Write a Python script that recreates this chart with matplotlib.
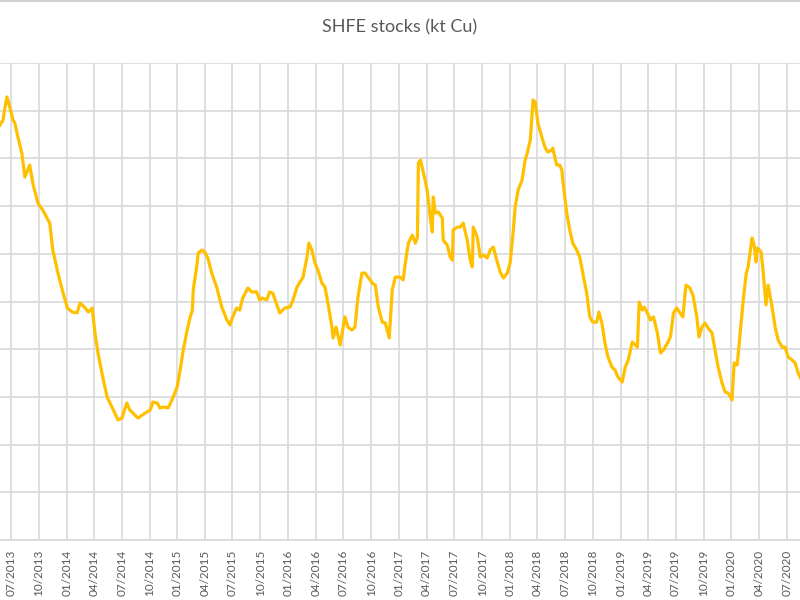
import matplotlib
matplotlib.use("Agg")
import matplotlib.pyplot as plt
import matplotlib.dates as mdates
import pandas as pd
from matplotlib.lines import Line2D

title = "SHFE stocks (kt Cu)"

dates = [
    "2013-05-26", "2013-06-05", "2013-06-11", "2013-06-18", "2013-06-28", "2013-07-08", "2013-07-14",
    "2013-07-24", "2013-08-06", "2013-08-16", "2013-09-01", "2013-09-11", "2013-09-28", "2013-10-14",
    "2013-10-28", "2013-11-06", "2013-11-16", "2013-12-03", "2013-12-20", "2014-01-03", "2014-01-19",
    "2014-02-04", "2014-02-14", "2014-03-03", "2014-03-13", "2014-03-26", "2014-04-04", "2014-04-14",
    "2014-04-27", "2014-05-14", "2014-05-30", "2014-06-19", "2014-07-02", "2014-07-18", "2014-07-28",
    "2014-08-14", "2014-08-24", "2014-09-16", "2014-10-03", "2014-10-12", "2014-10-26", "2014-11-04",
    "2014-11-14", "2014-12-01", "2014-12-14", "2014-12-31", "2015-01-10", "2015-01-20", "2015-02-02",
    "2015-02-12", "2015-02-19", "2015-02-22", "2015-03-07", "2015-03-10", "2015-03-23", "2015-04-01",
    "2015-04-11", "2015-04-24", "2015-05-11", "2015-05-27", "2015-06-13", "2015-06-23", "2015-07-02",
    "2015-07-15", "2015-07-25", "2015-08-04", "2015-08-21", "2015-09-03", "2015-09-19", "2015-09-29",
    "2015-10-09", "2015-10-22", "2015-11-01", "2015-11-11", "2015-12-04", "2015-12-21", "2016-01-07",
    "2016-01-17", "2016-01-30", "2016-02-09", "2016-02-19", "2016-03-03", "2016-03-09", "2016-03-19",
    "2016-03-29", "2016-04-08", "2016-04-21", "2016-05-01", "2016-05-11", "2016-05-24", "2016-05-28",
    "2016-06-07", "2016-06-20", "2016-06-30", "2016-07-06", "2016-07-16", "2016-07-29", "2016-08-08",
    "2016-08-18", "2016-08-31", "2016-09-10", "2016-09-20", "2016-10-04", "2016-10-14", "2016-10-24",
    "2016-11-06", "2016-11-16", "2016-11-29", "2016-12-09", "2016-12-19", "2017-01-04", "2017-01-14",
    "2017-01-21", "2017-01-31", "2017-02-13", "2017-02-23", "2017-03-02", "2017-03-05", "2017-03-12",
    "2017-03-22", "2017-04-03", "2017-04-13", "2017-04-20", "2017-04-23", "2017-04-30", "2017-05-10",
    "2017-05-23", "2017-05-26", "2017-06-08", "2017-06-18", "2017-06-25", "2017-06-28", "2017-07-11",
    "2017-07-21", "2017-07-31", "2017-08-13", "2017-08-23", "2017-08-30", "2017-09-02", "2017-09-15",
    "2017-09-25", "2017-10-05", "2017-10-18", "2017-10-28", "2017-11-07", "2017-11-20", "2017-11-30",
    "2017-12-10", "2017-12-23", "2018-01-02", "2018-01-12", "2018-01-18", "2018-01-28", "2018-02-10",
    "2018-02-20", "2018-02-27", "2018-03-09", "2018-03-18", "2018-03-25", "2018-04-03", "2018-04-16",
    "2018-04-26", "2018-05-06", "2018-05-19", "2018-05-22", "2018-06-04", "2018-06-14", "2018-06-21",
    "2018-06-24", "2018-07-07", "2018-07-17", "2018-07-27", "2018-08-09", "2018-08-19", "2018-08-29",
    "2018-09-11", "2018-09-21", "2018-10-01", "2018-10-14", "2018-10-21", "2018-10-31", "2018-11-10",
    "2018-11-20", "2018-12-03", "2018-12-13", "2018-12-23", "2019-01-06", "2019-01-16", "2019-01-26",
    "2019-02-08", "2019-02-18", "2019-02-25", "2019-03-03", "2019-03-13", "2019-03-20", "2019-03-30",
    "2019-04-09", "2019-04-19", "2019-05-02", "2019-05-12", "2019-05-22", "2019-06-04", "2019-06-14",
    "2019-06-24", "2019-07-05", "2019-07-15", "2019-07-25", "2019-08-04", "2019-08-17", "2019-08-27",
    "2019-09-09", "2019-09-16", "2019-09-26", "2019-10-06", "2019-10-16", "2019-10-29", "2019-11-08",
    "2019-11-18", "2019-12-01", "2019-12-11", "2019-12-21", "2020-01-03", "2020-01-10", "2020-01-20",
    "2020-01-30", "2020-02-09", "2020-02-19", "2020-02-25", "2020-03-09", "2020-03-16", "2020-03-22",
    "2020-03-26", "2020-04-08", "2020-04-14", "2020-04-24", "2020-05-01", "2020-05-14", "2020-05-24",
    "2020-06-03", "2020-06-16", "2020-06-26", "2020-07-06", "2020-07-19", "2020-07-29", "2020-08-08",
    "2020-08-21",
]

stocks = [
    217.5, 220.1, 226.4, 232.2, 226.4, 220.1, 218.5,
    211.2, 202.8, 190.2, 196.5, 187.1, 176.6, 172.9,
    168.7, 166.1, 152.0, 139.9, 129.4, 121.6, 119.5,
    119.0, 124.2, 121.6, 119.5, 121.6, 108.5, 98.0,
    87.5, 74.9, 69.7, 62.9, 63.9, 71.8, 68.1,
    65.5, 63.9, 66.5, 68.1, 72.3, 71.8, 69.2,
    69.7, 69.2, 73.4, 80.2, 89.1, 99.6, 110.0,
    116.9, 120.5, 131.0, 145.2, 150.4, 152.0, 150.9,
    147.8, 139.9, 132.1, 122.1, 115.3, 112.7, 116.9,
    121.6, 120.5, 126.8, 132.1, 130.0, 130.0, 125.8,
    126.8, 125.8, 130.0, 129.4, 119.0, 121.6, 122.1,
    125.8, 132.6, 135.2, 137.8, 148.3, 155.6, 152.0,
    145.2, 141.5, 134.7, 132.6, 124.2, 111.6, 105.9,
    111.6, 102.2, 111.6, 116.9, 111.6, 110.0, 111.6,
    127.3, 139.9, 139.9, 137.8, 134.7, 133.6, 122.1,
    114.2, 113.7, 105.9, 131.0, 137.8, 137.8, 136.3,
    145.2, 155.6, 159.8, 155.6, 158.8, 197.6, 199.1,
    192.3, 183.4, 169.3, 161.4, 179.8, 171.4, 171.9,
    168.7, 157.2, 154.6, 148.3, 146.7, 162.5, 164.0,
    164.0, 166.1, 157.2, 146.7, 143.1, 164.0, 158.8,
    148.3, 149.4, 147.8, 152.0, 153.5, 145.7, 140.4,
    137.3, 139.9, 145.7, 162.5, 174.5, 183.4, 188.7,
    199.1, 202.8, 209.6, 230.6, 229.5, 218.5, 211.2,
    206.0, 203.3, 204.4, 205.4, 196.5, 196.5, 193.9,
    188.7, 171.4, 162.5, 155.6, 152.0, 148.3, 139.9,
    129.4, 116.9, 114.2, 114.2, 119.5, 113.7, 103.2,
    95.9, 90.7, 89.1, 85.4, 82.8, 90.7, 94.3,
    103.8, 102.2, 101.1, 124.7, 120.5, 122.1, 119.0,
    115.3, 116.9, 108.5, 98.0, 99.6, 103.2, 106.4,
    119.0, 121.6, 119.0, 116.9, 133.6, 132.1, 128.4,
    116.9, 106.4, 111.6, 113.7, 111.1, 108.5, 99.6,
    90.7, 82.3, 77.6, 77.0, 73.4, 92.8, 91.7,
    108.5, 125.8, 139.9, 143.1, 158.3, 154.6, 145.7,
    153.0, 150.9, 141.5, 123.2, 133.6, 122.1, 111.6,
    104.8, 101.1, 101.1, 95.9, 94.3, 92.8, 87.5,
    83.1,
]

x_start = "2013-05-26"
x_end = "2020-08-14"
tick_dates = pd.date_range("2013-07-01", "2020-07-01", freq="QS")
y_max = 250
y_step = 25

GRID = "#d9d9d9"
TEXT = "#595959"
LINE = "#FFC000"

fig = plt.figure(figsize=(8, 6), dpi=100)
ax = fig.add_axes([0.0, 0.1, 1.0, 0.795])

ax.plot(pd.to_datetime(dates), stocks, color=LINE, linewidth=2.3, solid_joinstyle="round")

ax.set_xlim(pd.Timestamp(x_start), pd.Timestamp(x_end))
ax.set_ylim(0, y_max)
ax.set_yticks(range(0, y_max + 1, y_step))
ax.set_xticks(tick_dates)
ax.xaxis.set_major_formatter(mdates.DateFormatter("%m/%Y"))
ax.grid(True, color=GRID, linewidth=1.2)
ax.set_axisbelow(True)
for s in ["left", "right", "top"]:
    ax.spines[s].set_visible(False)
ax.spines["bottom"].set_color(GRID)
ax.spines["bottom"].set_linewidth(1.2)
ax.tick_params(axis="y", left=False, labelleft=False)
ax.tick_params(axis="x", length=0, pad=7, labelsize=8.5, labelcolor=TEXT, rotation=90)
for lab in ax.get_xticklabels():
    lab.set_fontfamily("Lato")

fig.text(0.5, 0.955, title, ha="center", va="center", fontsize=13, color=TEXT, family="Lato")
fig.add_artist(Line2D([0, 1], [0.998, 0.998], color="#d0d0d0", linewidth=1.5, transform=fig.transFigure))

fig.savefig("out.png", dpi=100, facecolor="white")
